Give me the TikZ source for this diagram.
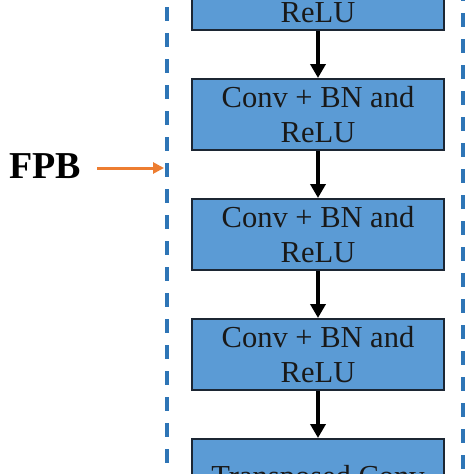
\documentclass[tikz,border=0pt]{standalone}
\usepackage{fontspec}
\setmainfont{Liberation Serif}
\usetikzlibrary{arrows.meta,positioning}
\definecolor{boxblue}{HTML}{5B9BD5}
\definecolor{dashblue}{HTML}{2E75B6}
\definecolor{fpborange}{HTML}{ED7D31}
\definecolor{boxline}{HTML}{1C2633}

\begin{document}
\begin{tikzpicture}[x=1pt,y=-1pt,node distance=47pt,
		layer/.style={draw=boxline,line width=2pt,fill=boxblue,text=black!90,minimum width=252pt,minimum height=71pt,align=center,inner sep=0pt,font=\fontsize{30.5}{35}\selectfont},
		flow/.style={-{Triangle[width=15pt,length=14pt]},line width=3.5pt},
		fpbarrow/.style={-{Triangle[width=11pt,length=11pt]},line width=3pt,draw=fpborange},
		fpbbox/.style={draw=dashblue,line width=3.5pt,dash pattern=on 14pt off 12pt}
		]
		\clip (0,0) rectangle (474,474);
		% FPB border, top and bottom out of view
		\draw[fpbbox] (167,-19) -- (167,490);
		\draw[fpbbox] (463,-13) -- (463,490);
		% layers
		\node[layer] (c1) at (318,-5.5) {Conv + BN and\\ReLU};
		\node[layer,below=of c1] (c2) {Conv + BN and\\ReLU};
		\node[layer,below=of c2] (c3) {Conv + BN and\\ReLU};
		\node[layer,below=of c3] (c4) {Conv + BN and\\ReLU};
		\node[layer,below=of c4,minimum height=80pt] (tc) {Transposed Conv};
		\draw[flow] (c1) -- (c2);
		\draw[flow] (c2) -- (c3);
		\draw[flow] (c3) -- (c4);
		\draw[flow] (c4) -- (tc);
		% label
		\node[font=\fontsize{38}{42}\selectfont\bfseries,anchor=base,inner sep=2pt] (fpb) at (45,178) {FPB};
		\coordinate (fpbin) at (164,168);
		\draw[fpbarrow,shorten <=14pt] (fpb.east |- fpbin) -- (fpbin);
		\end{tikzpicture}
\end{document}
